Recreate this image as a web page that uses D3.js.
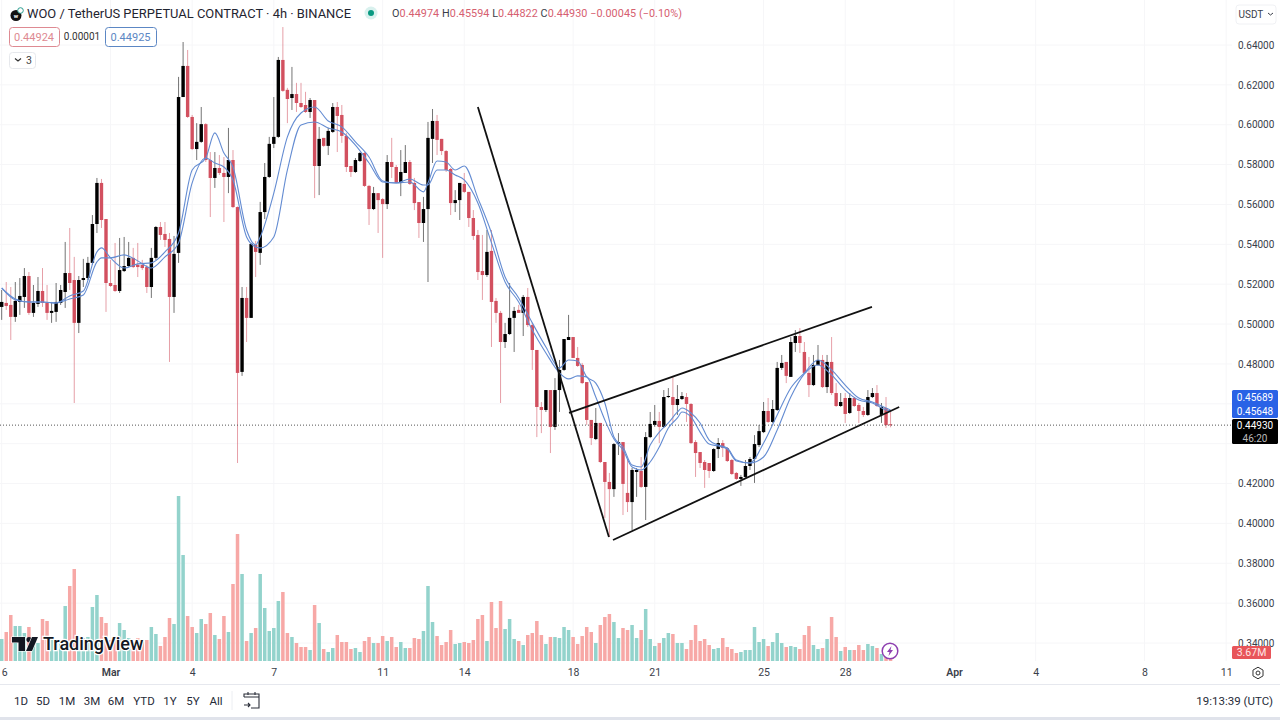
<!DOCTYPE html>
<html><head><meta charset="utf-8">
<script src="https://cdn.jsdelivr.net/npm/d3@7"></script>
<style>
html,body{margin:0;padding:0;background:#fff;overflow:hidden}
svg{display:block}
text{font-family:Roboto,"Liberation Sans",sans-serif}
.axis path,.axis line{display:none}
</style></head><body><svg id="c" width="1280" height="720"></svg>
<script>
const title="WOO / TetherUS PERPETUAL CONTRACT · 4h · BINANCE";
const opens=[.5086,.5106,.5096,.5036,.5111,.5136,.5241,.5056,.5101,.5166,.5106,.5056,.5061,.5106,.5161,.5256,.5221,.5006,.5221,.5231,
.5307,.5502,.5708,.5527,.5206,.5196,.5166,.5266,.5291,.5332,.5297,.5297,.5286,.5186,.5332,.5487,.5452,.5427,.5136,.5357,
.6139,.6295,.6039,.5878,.5914,.6003,.5823,.5733,.5783,.5758,.5738,.5823,.5587,.4760,.5131,.5031,.5397,.5357,.5562,.5738,
.5904,.5939,.6325,.6175,.6134,.6154,.6109,.6099,.6064,.6124,.5793,.5934,.5894,.5964,.6089,.6049,.5944,.5793,.5763,.5818,
.5858,.5693,.5577,.5657,.5627,.5602,.5813,.5788,.5708,.5758,.5813,.5708,.5612,.5507,.5577,.5929,.6019,.5929,.5868,.5778,
.5607,.5622,.5703,.5663,.5532,.5447,.5266,.5246,.5367,.5116,.5056,.4910,.4950,.5031,.5071,.5056,.5136,.4995,.4870,.4584,
.4569,.4669,.4484,.4669,.4770,.4920,.4935,.4830,.4795,.4709,.4519,.4423,.4504,.4308,.4208,.4172,.4398,.4408,.4153,.4107,
.4258,.4263,.4183,.4433,.4494,.4514,.4484,.4634,.4634,.4594,.4624,.4634,.4599,.4408,.4358,.4308,.4303,.4263,.4373,.4403,
.4378,.4318,.4253,.4223,.4233,.4288,.4323,.4393,.4458,.4564,.4509,.4569,.4780,.4810,.4735,.4905,.4940,.4860,.4755,.4694,
.4795,.4820,.4684,.4810,.4654,.4589,.4629,.4554,.4629,.4594,.4564,.4544,.4634,.4654,.4544,.4579,.44974];
const highs=[.5171,.5211,.5186,.5211,.5231,.5281,.5261,.5196,.5236,.5281,.5196,.5111,.5206,.5196,.5412,.5482,.5337,.5241,.5327,.5337,
.5547,.5733,.5728,.5527,.5322,.5407,.5432,.5437,.5412,.5382,.5407,.5322,.5297,.5382,.5492,.5512,.5512,.5457,.5442,.6240,
.6415,.6375,.6049,.6008,.6089,.6008,.5863,.5863,.5848,.5838,.5984,.5873,.5590,.5186,.5186,.5407,.5417,.5613,.5808,.5939,
.6139,.6340,.6490,.6185,.6290,.6210,.6210,.6165,.6134,.6124,.5989,.5934,.5984,.6109,.6114,.6099,.5959,.5793,.5833,.5863,
.5863,.5698,.5688,.5657,.5632,.5848,.5934,.5798,.5873,.5898,.5823,.5733,.5612,.5638,.6014,.6079,.6049,.5929,.5873,.5783,
.5672,.5708,.5758,.5663,.5572,.5472,.5447,.5472,.5472,.5131,.5066,.5006,.5206,.5086,.5096,.5146,.5181,.5006,.4870,.4609,
.4669,.4669,.4729,.4820,.4925,.5046,.4935,.4885,.4805,.4709,.4519,.4579,.4504,.4308,.4253,.4403,.4453,.4408,.4318,.4278,
.4278,.4333,.4458,.4559,.4594,.4559,.4669,.4679,.4734,.4694,.4659,.4654,.4604,.4418,.4358,.4318,.4303,.4378,.4428,.4418,
.4383,.4323,.4258,.4243,.4318,.4333,.4443,.4494,.4609,.4629,.4619,.4810,.4845,.4810,.4935,.4970,.4980,.4910,.4835,.4845,
.4895,.4845,.4845,.4935,.4704,.4654,.4654,.4654,.4634,.4604,.4584,.4669,.4679,.4694,.4604,.4634,.45594];
const lows=[.5021,.5071,.4920,.5011,.5046,.5081,.5046,.5036,.5086,.5086,.5021,.5006,.5011,.5096,.5081,.5171,.4604,.4955,.5186,.5221,
.5297,.5457,.5482,.5061,.5186,.5161,.5156,.5261,.5286,.5281,.5236,.5271,.5156,.5131,.5322,.5422,.5387,.4810,.5056,.5307,
.6139,.6034,.5873,.5823,.5909,.5813,.5537,.5683,.5748,.5512,.5657,.5582,.4303,.4740,.4910,.5031,.5236,.5297,.5527,.5733,
.5883,.5934,.6165,.6008,.6074,.6064,.6084,.6059,.6034,.5632,.5647,.5889,.5848,.5959,.5863,.5909,.5763,.5738,.5758,.5813,
.5688,.5497,.5572,.5457,.5332,.5577,.5733,.5708,.5642,.5758,.5698,.5572,.5432,.5412,.5211,.5808,.5848,.5848,.5763,.5547,
.5562,.5522,.5657,.5487,.5422,.5221,.5121,.5236,.4885,.5006,.4604,.4880,.4945,.4860,.5056,.4940,.4985,.4770,.4433,.4453,
.4559,.4353,.4469,.4559,.4765,.4920,.4830,.4785,.4699,.4494,.4393,.4418,.4303,.4027,.3932,.4133,.4343,.4042,.4057,.3967,
.4133,.4178,.4017,.4428,.4484,.4403,.4479,.4629,.4509,.4544,.4619,.4509,.4398,.4233,.4278,.4178,.4228,.4258,.4328,.4333,
.4308,.4243,.4218,.4188,.4228,.4268,.4203,.4383,.4453,.4504,.4504,.4564,.4770,.4704,.4735,.4860,.4855,.4750,.4634,.4689,
.4790,.4679,.4654,.4644,.4584,.4584,.4504,.4549,.4584,.4504,.4534,.4539,.4629,.4584,.4504,.4479,.44822];
const closes=[.5111,.5091,.5036,.5116,.5141,.5241,.5056,.5106,.5166,.5106,.5056,.5066,.5111,.5171,.5256,.5206,.5006,.5221,.5231,.5307,
.5502,.5708,.5522,.5206,.5191,.5166,.5271,.5291,.5332,.5286,.5286,.5281,.5186,.5332,.5487,.5447,.5422,.5136,.5352,.6139,
.6295,.6039,.5878,.5914,.6003,.5823,.5733,.5783,.5758,.5738,.5823,.5587,.4755,.5131,.5031,.5402,.5362,.5562,.5738,.5904,
.5939,.6325,.6170,.6129,.6154,.6109,.6089,.6064,.6124,.5793,.5929,.5894,.5969,.6089,.6044,.5944,.5788,.5763,.5823,.5858,
.5693,.5577,.5657,.5622,.5602,.5813,.5788,.5708,.5763,.5813,.5703,.5607,.5507,.5577,.5934,.6019,.5924,.5868,.5773,.5607,
.5622,.5708,.5663,.5532,.5442,.5261,.5246,.5362,.5111,.5056,.4910,.4950,.5031,.5066,.5056,.5136,.4995,.4870,.4584,.4569,
.4669,.4484,.4669,.4770,.4925,.4935,.4830,.4790,.4704,.4519,.4428,.4504,.4308,.4208,.4172,.4398,.4408,.4198,.4107,.4268,
.4268,.4183,.4433,.4499,.4514,.4484,.4634,.4639,.4594,.4624,.4639,.4599,.4403,.4353,.4303,.4268,.4263,.4373,.4403,.4378,
.4313,.4248,.4223,.4233,.4288,.4323,.4398,.4463,.4564,.4509,.4574,.4780,.4805,.4740,.4910,.4940,.4905,.4755,.4694,.4795,
.4820,.4684,.4810,.4654,.4589,.4609,.4549,.4629,.4589,.4564,.4544,.4634,.4654,.4589,.4584,.4493,.4493];
// volume in millions
const volumes=[8.8,11.6,18.4,14,14,11.2,13.6,9.2,7.2,16.8,16,9.2,8.4,8.4,22,30,36.8,9.2,9.2,9.6,
21.6,26.4,17.6,15.2,8.4,8.4,15.2,12.4,9.2,7.6,9.2,8.4,8.4,13.6,10.8,6,9.6,17.2,14.8,66,
42.4,18,13.6,11.2,16.8,14.8,19.2,10.4,8.8,18,11.6,30.8,50.8,34.8,8,11.2,13.2,34.8,21.2,12,
13.2,24,27.6,11.2,9.6,7.2,5.6,5.6,4.4,22.4,15.2,4.8,3.6,5.2,10.4,7.6,7.6,4.8,5.2,3.6,
8,9.6,7.2,7.2,10,8,9.6,5.6,7.6,5.2,5.2,9.2,8.8,12,30,15.6,10,6.4,7.6,12.4,
6.8,7.2,7.6,7.2,8.4,16.8,18.4,8,23.6,13.2,24,12.8,16.8,8.8,8,6.4,10.4,11.2,16,10.4,
6.8,9.6,9.6,9.2,13.6,12.4,9.6,6.8,10,13.6,11.6,7.2,14.4,17.6,18.8,15.6,9.2,13.2,12.4,14.4,
9.2,12.4,20.8,8.8,6,7.2,9.2,11.2,10.8,7.2,7.2,4.8,8.4,14.4,8,8.8,6.4,4.8,5.2,9.2,
5.6,4.8,3.2,3.6,4.4,4.4,13.6,7.6,8.8,6,7.6,11.2,7.2,5.6,6,5.6,4.8,10.4,14,6.4,
4.8,5.2,8.8,17.6,9.6,4,5.6,4.4,4.4,6.4,4.4,6.8,6,5.2,2.8,2.4,3.67];
// moving averages, read at these bar numbers
const maBars=[0,3,6,9,12,15,18,21,22,24,27,30,33,36,39,42,45,47,49,51,54,56,57,60,63,66,69,72,75,78,81,84,87,90,93,94,96,98,100,102,105,108,111,114,117,120,123,125,127,129,131,133,135,137,139,141,143,145,147,149,150,152,154,156,158,160,162,165,168,171,174,177,180,183,186,189,192,195,196];
const maFast=[.5181,.5121,.5111,.5111,.5106,.5141,.5166,.5362,.5382,.5332,.5281,.5302,.5307,.5362,.5457,.5773,.5833,.5959,.5858,.5788,.5472,.5397,.5437,.5657,.5939,.6059,.6089,.6019,.5989,.5914,.5838,.5718,.5708,.5713,.5663,.5708,.5818,.5813,.5773,.5793,.5632,.5457,.5236,.5131,.5006,.4885,.4780,.4820,.4815,.4735,.4704,.4604,.4433,.4383,.4293,.4283,.4393,.4458,.4504,.4559,.4579,.4554,.4504,.4418,.4393,.4378,.4318,.4303,.4403,.4544,.4679,.4755,.4820,.4770,.4694,.4629,.4609,.4579,.45689];
const maSlow=[.5181,.5126,.5111,.5111,.5106,.5126,.5146,.5312,.5332,.5332,.5347,.5317,.5281,.5337,.5407,.5708,.5833,.5808,.5788,.5723,.5437,.5387,.5382,.5437,.5773,.5999,.6014,.5984,.5964,.5898,.5808,.5713,.5708,.5728,.5698,.5698,.5773,.5773,.5748,.5723,.5607,.5407,.5211,.5111,.4970,.4855,.4755,.4725,.4740,.4735,.4634,.4519,.4423,.4368,.4283,.4268,.4308,.4383,.4479,.4529,.4559,.4534,.4458,.4398,.4388,.4373,.4313,.4303,.4333,.4469,.4634,.4750,.4795,.4745,.4669,.4619,.4604,.4569,.45648];
const gridPrices=[.64,.62,.60,.58,.56,.54,.52,.50,.48,.46,.44,.42,.40,.38,.36,.34];
const priceTicks=[.64,.62,.60,.58,.56,.54,.52,.50,.48,.42,.40,.38,.36,.34];
const timeBars=[0,24,42,60,84,102,126,144,168,186,210,228,252,270];
const timeLabels=["6","Mar","4","7","11","14","18","21","25","28","Apr","4","8","11"];
const rangeLabels=["1D","5D","1M","3M","6M","YTD","1Y","5Y","All"];
// drawn trend lines: [bar number, price] at each end
const trendLines=[[[105,.6089],[133.9,.3932]],[[125.1,.4554],[191.9,.5086]],[[134.8,.3917],[197.9,.4584]]];
const lastPrice=.4493;

const UP="#000000",DOWN="#d2505f",VUP="#93d3cc",VDOWN="#f7a8a6",BLUE="#2962e6",TXT="#3a3e4a";
const svg=d3.select("#c");
const x=d3.scaleLinear().domain([0,270]).range([1.7,1226.15]);
const y=d3.scaleLinear().domain([.34,.64]).range([643,45]);
const yv=d3.scaleLinear().domain([0,66]).range([661,496]);

// panes
const chart=svg.append("g");
chart.append("g").selectAll("line").data(gridPrices).join("line")
 .attr("x1",0).attr("x2",1232).attr("y1",d=>y(d)).attr("y2",d=>y(d)).attr("stroke","#f6f6f8");
chart.append("g").selectAll("line").data(timeBars).join("line")
 .attr("x1",d=>x(d)).attr("x2",d=>x(d)).attr("y1",0).attr("y2",661).attr("stroke","#f6f6f8");

// volume
chart.append("g").selectAll("rect").data(volumes).join("rect")
 .attr("x",(d,i)=>x(i)-1.75).attr("width",3.5).attr("y",d=>yv(d)).attr("height",d=>yv(0)-yv(d))
 .attr("fill",(d,i)=>closes[i]>=opens[i]?VUP:VDOWN);

// watermark
const wm=chart.append("g").attr("transform","translate(12,637)");
wm.append("path").attr("d","M0 0H13V14H6.5V5.5H0Z").attr("fill","#131722").attr("stroke","#fff").attr("stroke-width",1.2).attr("paint-order","stroke");
wm.append("circle").attr("cx",17).attr("cy",2.6).attr("r",2.6).attr("fill","#131722");
wm.append("path").attr("d","M20 0H26L20 14H14Z").attr("fill","#131722").attr("stroke","#fff").attr("stroke-width",1.2).attr("paint-order","stroke");
chart.append("text").attr("x",43).attr("y",650).text("TradingView").attr("font-size",18).attr("font-weight",500)
 .attr("fill","#131722").attr("stroke","#fff").attr("stroke-width",2.5).attr("paint-order","stroke").attr("font-family","Roboto");

// candles
const cg=chart.append("g");
const n=opens.length, bars=d3.range(n);
const col=i=>closes[i]>=opens[i]?UP:DOWN;
cg.selectAll("line.w").data(bars).join("line").attr("class","w")
 .attr("x1",i=>x(i)).attr("x2",i=>x(i)).attr("y1",i=>y(highs[i])).attr("y2",i=>y(lows[i]))
 .attr("stroke",col).attr("stroke-width",1).attr("stroke-opacity",.55);
cg.selectAll("rect.b").data(bars).join("rect").attr("class","b")
 .attr("x",i=>x(i)-1.7).attr("width",3.4)
 .attr("y",i=>y(Math.max(opens[i],closes[i])))
 .attr("height",i=>Math.max(1,Math.abs(y(opens[i])-y(closes[i]))))
 .attr("fill",col);

// moving averages
const ln=v=>d3.line().x((d,k)=>x(maBars[k])).y(d=>y(d)).curve(d3.curveMonotoneX)(v);
[maFast,maSlow].forEach(s=>chart.append("path").attr("d",ln(s)).attr("fill","none").attr("stroke","#648cd2").attr("stroke-width",1.1));

// trend lines
chart.append("g").selectAll("line").data(trendLines).join("line")
 .attr("x1",d=>x(d[0][0])).attr("y1",d=>y(d[0][1])).attr("x2",d=>x(d[1][0])).attr("y2",d=>y(d[1][1]))
 .attr("stroke","#111").attr("stroke-width",1.8);

// last price line
chart.append("line").attr("x1",0).attr("x2",1232).attr("y1",y(lastPrice)).attr("y2",y(lastPrice))
 .attr("stroke","#555").attr("stroke-width",1).attr("stroke-dasharray","1 2");

// bolt
const bolt=chart.append("g").attr("transform","translate(890,651)");
bolt.append("circle").attr("r",7.8).attr("fill","#fff").attr("stroke","#8e3fb0").attr("stroke-width",1.5);
bolt.append("path").attr("d","M1.5 -5 L-3 1 H-0.5 L-1.5 5 L3 -1 H0.5Z").attr("fill","#8e3fb0");

// axes
svg.append("g").attr("class","axis").attr("transform","translate(1238,0)")
 .call(d3.axisRight(y).tickValues(priceTicks).tickSize(0).tickPadding(0).tickFormat(d3.format(".5f")))
 .selectAll("text").attr("font-size",10).attr("fill",TXT).attr("font-family","Roboto");
svg.append("g").attr("class","axis").attr("transform","translate(0,669)")
 .call(d3.axisBottom(x).tickValues(timeBars).tickSize(0).tickPadding(0).tickFormat((d,i)=>timeLabels[i]))
 .selectAll("text").attr("font-size",10.5).attr("fill",TXT).attr("font-family","Roboto")
 .attr("font-weight",(d,i)=>timeLabels[i]==="Mar"||timeLabels[i]==="Apr"?600:400)
 .attr("dx",(d,i)=>i===0?2.5:0);

// right side price labels
const lab=(yy,h,fill)=>svg.append("rect").attr("x",1232).attr("y",yy).attr("width",46).attr("height",h).attr("rx",1.5).attr("fill",fill);
const ltxt=(s,yy,c,fs=10)=>svg.append("text").attr("x",1255).attr("y",yy).attr("text-anchor","middle").attr("font-size",fs).attr("fill",c).attr("font-family","Roboto").text(s);
lab(390,28,BLUE);
ltxt("0.45689",397+3.7,"#fff");ltxt("0.45648",411+3.7,"#fff");
lab(419,25,"#000");
ltxt("0.44930",425+3.7,"#fff");ltxt("46:20",438+3.5,"#bbb");
svg.append("rect").attr("x",1232).attr("y",646).attr("width",39).attr("height",13).attr("rx",1.5).attr("fill","#e8555a");
svg.append("text").attr("x",1251.5).attr("y",656).attr("text-anchor","middle").attr("font-size",10.5).attr("fill","#ffe6e6").attr("font-family","Roboto").text("3.67M");

// USDT
svg.append("rect").attr("x",1236).attr("y",5).attr("width",40).attr("height",19).attr("rx",3).attr("fill","#fff").attr("stroke","#f0f1f4");
svg.append("text").attr("x",1238.5).attr("y",18).attr("font-size",10).attr("fill",TXT).attr("font-family","Roboto").text("USDT");
svg.append("path").attr("d","M1268 13l2.5 2 2.5-2").attr("fill","none").attr("stroke",TXT).attr("stroke-width",1);

// header
const icon=svg.append("g");
icon.append("circle").attr("cx",16).attr("cy",15.5).attr("r",5.5).attr("fill","#111");
icon.append("circle").attr("cx",20.5).attr("cy",10.5).attr("r",2.8).attr("fill","#fff").attr("stroke","#2a9d8f").attr("stroke-width",1);
icon.append("text").attr("x",16).attr("y",18).attr("text-anchor","middle").attr("font-size",6).attr("fill","#fff").attr("font-weight",700).text("w");
svg.append("text").attr("x",27).attr("y",18).attr("font-size",13).attr("fill","#1f2430").attr("textLength",324).attr("lengthAdjust","spacingAndGlyphs").attr("font-family","Roboto").text(title);
svg.append("circle").attr("cx",371).attr("cy",13).attr("r",6.5).attr("fill","#d9f1ee");
svg.append("circle").attr("cx",371).attr("cy",13).attr("r",3).attr("fill","#089981");
const ohlc=svg.append("text").attr("x",392).attr("y",17).attr("font-size",10.8).attr("font-family","Roboto").attr("textLength",290).attr("lengthAdjust","spacing");
[["O","#3a3e4a"],["0.44974 ","#d66070"],["H","#3a3e4a"],["0.45594 ","#d66070"],["L","#3a3e4a"],["0.44822 ","#d66070"],["C","#3a3e4a"],["0.44930 −0.00045 (−0.10%)","#d66070"]]
 .forEach(p=>ohlc.append("tspan").attr("fill",p[1]).text(p[0]));

// buy / sell
const box=(x0,w,c,t)=>{svg.append("rect").attr("x",x0+.5).attr("y",27.5).attr("width",w).attr("height",19).attr("rx",3).attr("fill","#fff").attr("stroke",c);
 svg.append("text").attr("x",x0+w/2).attr("y",41).attr("text-anchor","middle").attr("font-size",11).attr("fill",c).attr("font-family","Roboto").text(t);};
box(9,50,"#de8a92","0.44924");box(105,51,"#5c87c4","0.44925");
svg.append("text").attr("x",82).attr("y",40).attr("text-anchor","middle").attr("font-size",10).attr("fill","#333").attr("font-family","Roboto").text("0.00001");
svg.append("rect").attr("x",9.5).attr("y",52.5).attr("width",26).attr("height",16).attr("rx",3).attr("fill","#fff").attr("stroke","#e6e8ec");
svg.append("path").attr("d","M15 58.5l3 2.5 3-2.5").attr("fill","none").attr("stroke","#333").attr("stroke-width",1.2);
svg.append("text").attr("x",26).attr("y",64).attr("font-size",10.5).attr("fill","#444").attr("font-family","Roboto").text("3");

// bottom bar
svg.append("line").attr("x1",0).attr("x2",1280).attr("y1",684.5).attr("y2",684.5).attr("stroke","#e6e8ee");
svg.append("rect").attr("x",0).attr("y",717).attr("width",1280).attr("height",3).attr("fill","#e0e3eb");
const rangePos=[21,43,67,92,116,144,170,193,216];
rangeLabels.forEach((t,i)=>svg.append("text").attr("x",rangePos[i]).attr("y",704.5).attr("text-anchor","middle").attr("font-size",11.5).attr("fill","#262b38").attr("font-family","Roboto").text(t));
svg.append("line").attr("x1",232).attr("x2",232).attr("y1",691).attr("y2",710).attr("stroke","#eceef2");
svg.append("path").attr("d","M244 697v-3h15v14h-8 M244 697h15 M248 692v3 M255 692v3 M244 705h6 M248 703l2 2-2 2").attr("fill","none").attr("stroke","#2a2e39").attr("stroke-width",1.1);
svg.append("text").attr("x",1273).attr("y",704.5).attr("text-anchor","end").attr("font-size",11.5).attr("fill","#262b38").attr("font-family","Roboto").text("19:13:39 (UTC)");
const gear=svg.append("g").attr("transform","translate(1258,673)");
gear.append("path").attr("d",d3.line()(d3.range(6).map(k=>[5.8*Math.cos(k*Math.PI/3+Math.PI/6),5.8*Math.sin(k*Math.PI/3+Math.PI/6)]))+"Z").attr("fill","none").attr("stroke","#333").attr("stroke-width",1);
gear.append("circle").attr("r",2).attr("fill","none").attr("stroke","#333").attr("stroke-width",1);
</script></body></html>
